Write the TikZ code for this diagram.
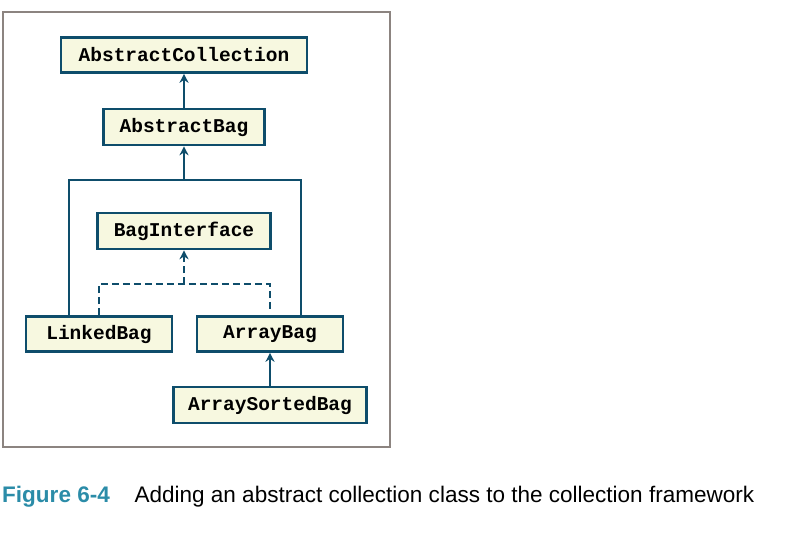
\documentclass[tikz,border=0pt]{standalone}
\usepackage{fontspec}
\setmainfont{Liberation Sans}
\newfontfamily\codefont{Liberation Mono}
\usetikzlibrary{arrows.meta}
\definecolor{ln}{HTML}{0E4D6B}
\definecolor{bx}{HTML}{F7F8E0}
\definecolor{fr}{HTML}{8C8480}
\definecolor{cap}{HTML}{2B8CA8}
\begin{document}
\begin{tikzpicture}[x=1pt,y=-1pt,
  cls/.style={draw=ln,fill=bx,line width=2.6pt,inner sep=0pt,font=\codefont\bfseries\fontsize{19.5}{20}\selectfont},
  conn/.style={draw=ln,line width=2.6pt},
  arr/.style={conn,-{Stealth[length=9pt,width=9pt]}},
  dsh/.style={conn,dash pattern=on 7pt off 4pt}]
\useasboundingbox (0,0) rectangle (808,544);
\draw[fr,line width=2pt] (3,12) rectangle (390,447);
\node[cls,minimum width=246,minimum height=35] (ac) at (184,55) {AbstractCollection};
\node[cls,minimum width=161,minimum height=36] (ab) at (184,127) {AbstractBag};
\node[cls,minimum width=173,minimum height=36] (bi) at (184,231) {BagInterface};
\node[cls,minimum width=146,minimum height=35] (lb) at (99,334) {LinkedBag};
\node[cls,minimum width=146,minimum height=35] (arb) at (270,334) {ArrayBag};
\node[cls,minimum width=193,minimum height=36] (asb) at (270,405) {ArraySortedBag};
\coordinate (jn) at (184,180);
\coordinate (dj) at (184,284);
\coordinate (dend) at (270,311);
\draw[arr] (ab) -- (ac);
\draw[arr] (jn) -- (ab);
\draw[conn] (lb.north -| 69,0) |- (jn) -| (arb.north -| 301,0);
\draw[dsh] (lb.north) |- (dj) -| (dend);
\draw[dsh,-{Stealth[length=9pt,width=9pt]}] (dj) -- (bi);
\draw[arr] (asb) -- (arb);
\node[anchor=west,inner sep=0pt,font=\fontsize{20}{22}\selectfont] (cp) at (2,497)
  {\resizebox{752pt}{!}{\textcolor{cap}{\bfseries Figure 6-4}\hspace{22pt}Adding an abstract collection class to the collection framework}};
\end{tikzpicture}
\end{document}
